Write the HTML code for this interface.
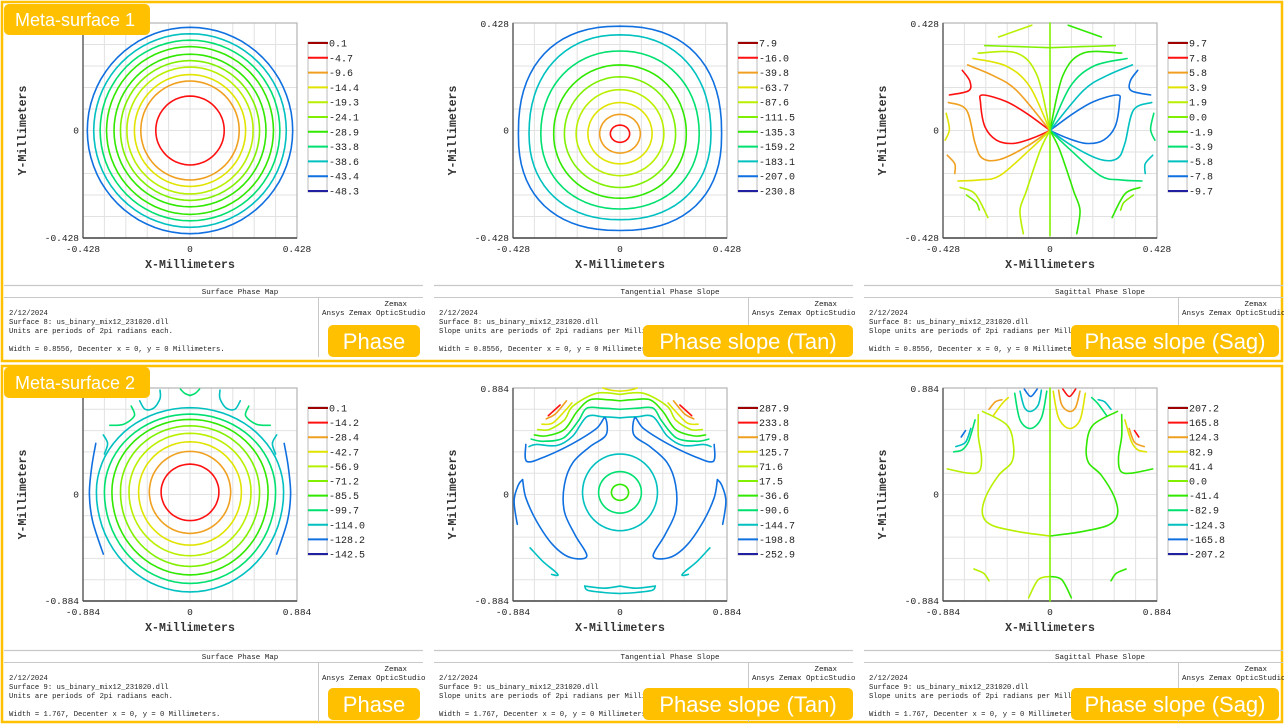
<!DOCTYPE html>
<html><head><meta charset="utf-8">
<style>
html,body{margin:0;padding:0;background:#fff;}
#root{position:relative;width:1284px;height:724px;overflow:hidden;background:#fff;}
svg text{font-family:"Liberation Mono",monospace;}
.badge{font-family:"Liberation Sans",sans-serif;fill:#fff;}
</style></head>
<body>
<div id="root">
<svg id="svg" width="1284" height="724" viewBox="0 0 1284 724" xmlns="http://www.w3.org/2000/svg"></svg>
</div>
<script>
// ---------- DATA ----------
const pal = {dr:'#a00000', r:'#ff1010', o:'#f0a020', y:'#e0e400', yg:'#b8f000', g1:'#80f000', g2:'#30e800', g3:'#00e070', t:'#00c0c0', b:'#1070e0', n:'#2020a0'};
const legendColorKeys = ['dr','r','o','y','yg','g1','g2','g3','t','b','n'];
const antiMirror = {r:'b', o:'t', y:'g3', yg:'g2', g1:'g1', b:'r', t:'o', g3:'y', g2:'yg', dr:'n', n:'dr'};

const titles = ['Surface Phase Map','Tangential Phase Slope','Sagittal Phase Slope'];
const badgeTexts = ['Phase','Phase slope (Tan)','Phase slope (Sag)'];
const rowLabels = ['Meta-surface 1','Meta-surface 2'];
const extents = [0.428, 0.884];
const xTicks1 = ['-0.428','0','0.428'];
const xTicks2 = ['-0.884','0','0.884'];

const legendP1 = ['0.1','-4.7','-9.6','-14.4','-19.3','-24.1','-28.9','-33.8','-38.6','-43.4','-48.3'];
const legendP2 = ['7.9','-16.0','-39.8','-63.7','-87.6','-111.5','-135.3','-159.2','-183.1','-207.0','-230.8'];
const legendP3 = ['9.7','7.8','5.8','3.9','1.9','0.0','-1.9','-3.9','-5.8','-7.8','-9.7'];
const legendP4 = ['0.1','-14.2','-28.4','-42.7','-56.9','-71.2','-85.5','-99.7','-114.0','-128.2','-142.5'];
const legendP5 = ['287.9','233.8','179.8','125.7','71.6','17.5','-36.6','-90.6','-144.7','-198.8','-252.9'];
const legendP6 = ['207.2','165.8','124.3','82.9','41.4','0.0','-41.4','-82.9','-124.3','-165.8','-207.2'];

// Panel 1: concentric phase rings (normalized radius of half-width)
const p1Radii = [0.32,0.46,0.52,0.59,0.65,0.71,0.78,0.84,0.90,0.96];
const p1Colors = ['r','o','y','yg','g1','g2','g2','g3','t','b'];

// Panel 2: tangential slope rings
const p2Rx  = [0.09,0.19,0.30,0.41,0.52,0.62,0.74,0.85,0.95];
const p2Top = [0.08,0.18,0.29,0.41,0.53,0.64,0.77,0.92,1.0];
const p2Bot = [0.08,0.18,0.28,0.39,0.5,0.6,0.7,0.8,0.9];
const p2Sq  = [2,2,2,2,2,2.05,2.1,2.2,2.35];
const p2Colors = ['r','o','y','yg','g1','g2','g3','t','b'];
const p2Cy = -0.03;

// Panel 4: egg shaped phase rings
const p4Rx  = [0.27,0.38,0.48,0.57,0.65,0.73,0.80,0.875];
const p4Top = [0.26,0.38,0.47,0.55,0.62,0.68,0.73,0.79];
const p4Bot = [0.27,0.39,0.5,0.6,0.7,0.78,0.86,0.94];
const p4Colors = ['r','o','y','yg','g1','g2','g3','t'];
const p4Cy = 0.025;
const p4Lines = [
 {c:'g3', sym:true, pts:[[-0.09,0.99],[-0.05,0.95],[0,0.93]]},
 {c:'t', sym:true, pts:[[-0.47,0.88],[-0.42,0.8],[-0.34,0.81],[-0.28,0.9],[-0.28,0.98]]},
 {c:'g3', sym:true, pts:[[-0.75,0.65],[-0.62,0.66],[-0.52,0.74],[-0.55,0.83]]},
 {c:'t', sym:true, pts:[[-0.81,0.56],[-0.77,0.48],[-0.8,0.38]]},
 {c:'b', sym:true, pts:[[-0.88,0.48],[-0.92,0.25],[-0.94,0],[-0.91,-0.25],[-0.81,-0.56]]}
];

// Panel 3: sagittal slope (left half, mirrored antisymmetric)
const p3Lines = [
 {c:'r', pts:[[0,0],[-0.22,0.16],[-0.41,0.27],[-0.63,0.33],[-0.65,0.26],[-0.61,0.04],[-0.5,-0.09],[-0.34,-0.12],[-0.16,-0.07],[0,0]]},
 {c:'r', pts:[[-0.82,0.56],[-0.75,0.46],[-0.76,0.37],[-0.94,0.33]]},
 {c:'o', pts:[[-0.77,0.61],[-0.53,0.51],[-0.31,0.37],[0,0]]},
 {c:'o', pts:[[0,0],[-0.22,-0.15],[-0.47,-0.27],[-0.63,-0.26],[-0.7,-0.12],[-0.78,0.19],[-0.95,0.26]]},
 {c:'y', pts:[[-0.72,0.67],[-0.41,0.6],[-0.19,0.41],[0,0]]},
 {c:'y', pts:[[0,0],[-0.19,-0.18],[-0.47,-0.42],[-0.66,-0.46],[-0.86,-0.47]]},
 {c:'yg', pts:[[-0.67,0.72],[-0.31,0.72],[-0.12,0.51],[0,0]]},
 {c:'yg', pts:[[0,0],[-0.09,-0.18],[-0.22,-0.56],[-0.28,-0.74],[-0.25,-0.96]]},
 {c:'g1', pts:[[-0.61,0.79],[-0.3,0.78],[0,0.77]]},
 {c:'yg', pts:[[-0.48,0.87],[-0.17,0.98]]},
 {c:'y', pts:[[-0.97,0.16],[-0.94,0.01],[-0.98,-0.09]]},
 {c:'o', pts:[[-0.96,-0.23],[-0.89,-0.31],[-0.89,-0.4]]},
 {c:'yg', pts:[[-0.84,-0.53],[-0.7,-0.59],[-0.58,-0.81]]},
 {c:'g1', pts:[[-0.78,-0.6],[-0.69,-0.67],[-0.66,-0.74]]}
];
const p3Center = [[0,1],[0,-0.98]];

// Panel 5: tangential slope row 2 (symmetric mirror)
const p5Lines = [
 {c:'t', pts:[[-0.85,0.45],[-0.78,0.47],[-0.59,0.46],[-0.44,0.55],[-0.31,0.73],[-0.16,0.73],[0,0.72]]},
 {c:'g3', pts:[[-0.83,0.52],[-0.72,0.5],[-0.53,0.53],[-0.39,0.69],[-0.31,0.81],[-0.16,0.81],[0,0.8]]},
 {c:'g2', pts:[[-0.8,0.56],[-0.69,0.55],[-0.52,0.61],[-0.4,0.78],[-0.28,0.89],[-0.12,0.89],[0,0.88]]},
 {c:'yg', pts:[[-0.77,0.61],[-0.66,0.61],[-0.52,0.7],[-0.44,0.83],[-0.22,0.95],[0,0.94]]},
 {c:'y', pts:[[-0.73,0.66],[-0.63,0.67],[-0.52,0.78],[-0.45,0.86]]},
 {c:'y', pts:[[-0.16,1.0],[-0.09,0.98],[0,0.97]]},
 {c:'o', pts:[[-0.69,0.71],[-0.6,0.76],[-0.5,0.88]]},
 {c:'r', pts:[[-0.67,0.74],[-0.56,0.84]]},
 {c:'b', pts:[[-0.88,0.47],[-0.87,0.31],[-0.69,0.36],[-0.44,0.48],[-0.22,0.62],[-0.14,0.72],[-0.13,0.56],[-0.28,0.45],[-0.44,0.3],[-0.52,0.09],[-0.52,-0.16],[-0.42,-0.38],[-0.31,-0.58],[-0.47,-0.59],[-0.63,-0.47],[-0.78,-0.25],[-0.88,-0.03],[-0.91,0.14]]},
 {c:'b', pts:[[-0.91,0.14],[-0.95,0.09],[-0.99,-0.06],[-0.96,-0.28]]},
 {c:'t', pts:[[-0.84,-0.5],[-0.72,-0.63],[-0.61,-0.72],[-0.58,-0.76],[-0.64,-0.75]]},
 {c:'t', pts:[[-0.33,-0.86],[-0.15,-0.88],[0,-0.86]]},
 {c:'t', pts:[[-0.33,-0.86],[-0.3,-0.9],[-0.15,-0.92],[0,-0.93]]}
];
const p5RingR = [0.08,0.2,0.35];
const p5RingRy = [0.075,0.195,0.36];
const p5RingC = ['g2','g3','t'];
const p5Cy = 0.02;

// Panel 6: sagittal slope row 2 (left half, antisymmetric mirror)
const p6Lines = [
 {c:'yg', pts:[[-0.96,0.24],[-0.76,0.2],[-0.66,0.22],[-0.64,0.35],[-0.67,0.55],[-0.67,0.75]]},
 {c:'yg', pts:[[-0.63,0.78],[-0.4,0.65],[-0.34,0.45],[-0.36,0.3],[-0.48,0.18],[-0.6,-0.02],[-0.63,-0.19],[-0.54,-0.29],[-0.29,-0.35],[0,-0.39]]},
 {c:'g3', pts:[[-0.33,0.95],[-0.28,0.7],[-0.18,0.62],[-0.08,0.72],[-0.03,0.97]]},
 {c:'t', pts:[[-0.28,0.97],[-0.24,0.82],[-0.18,0.78],[-0.11,0.84],[-0.08,0.98]]},
 {c:'b', pts:[[-0.24,0.99],[-0.18,0.92],[-0.12,0.99]]},
 {c:'g3', pts:[[-0.7,0.7],[-0.76,0.5],[-0.82,0.42],[-0.9,0.4]]},
 {c:'t', pts:[[-0.74,0.62],[-0.79,0.49],[-0.88,0.45]]},
 {c:'b', pts:[[-0.79,0.6],[-0.83,0.54]]},
 {c:'o', pts:[[-0.57,0.8],[-0.51,0.87],[-0.45,0.89]]},
 {c:'y', pts:[[-0.53,0.74],[-0.45,0.85],[-0.39,0.91]]},
 {c:'yg', pts:[[-0.2,-0.97],[-0.11,-0.8],[0,-0.77]]},
 {c:'yg', pts:[[-0.71,-0.7],[-0.62,-0.74],[-0.57,-0.81]]}
];
const p6Center = [[0,1],[0,-1]];

// ---------- DRAWING ----------
const NS='http://www.w3.org/2000/svg';
const svg=document.getElementById('svg');
function el(tag,attrs,parent){const e=document.createElementNS(NS,tag);for(const k in attrs)e.setAttribute(k,attrs[k]);(parent||svg).appendChild(e);return e;}
function txt(s,attrs,parent){const e=el('text',attrs,parent);e.textContent=s;return e;}

function smoothPath(p){
  if(p.length<3){return 'M'+p.map(q=>q[0].toFixed(1)+','+q[1].toFixed(1)).join(' L');}
  let d='M'+p[0][0].toFixed(1)+','+p[0][1].toFixed(1);
  for(let i=0;i<p.length-1;i++){
    const p0=p[Math.max(0,i-1)],p1=p[i],p2=p[i+1],p3=p[Math.min(p.length-1,i+2)];
    const c1=[p1[0]+(p2[0]-p0[0])/6,p1[1]+(p2[1]-p0[1])/6];
    const c2=[p2[0]-(p3[0]-p1[0])/6,p2[1]-(p3[1]-p1[1])/6];
    d+=' C'+c1[0].toFixed(1)+','+c1[1].toFixed(1)+' '+c2[0].toFixed(1)+','+c2[1].toFixed(1)+' '+p2[0].toFixed(1)+','+p2[1].toFixed(1);
  }
  return d;
}

// frames
el('rect',{x:2,y:2,width:1280,height:359,fill:'none',stroke:'#FFC000','stroke-width':2.5,});
el('rect',{x:2,y:366,width:1280,height:356,fill:'none',stroke:'#FFC000','stroke-width':2.5,});

const legends=[legendP1,legendP2,legendP3,legendP4,legendP5,legendP6];

function makePanel(row,col){
  const dx=col*430, dy=row*365;
  const idx=row*3+col;
  const g=el('g',{});
  
  
  const x0=dx+83,x1=dx+297,y0=dy+23,y1=dy+(row?236:238);
  const cx=(x0+x1)/2, cy=(y0+y1)/2, hw=(x1-x0)/2, hh=(y1-y0)/2;
  const sx=v=>cx+v*hw, sy=v=>cy-v*hh;
  const grid=el('g',{stroke:'#e2e2e2','stroke-width':1},g);
  
  
  for(let i=1;i<10;i++){
    el('line',{x1:x0+i*(x1-x0)/10,y1:y0,x2:x0+i*(x1-x0)/10,y2:y1},grid);
    el('line',{x1:x0,y1:y0+i*(y1-y0)/10,x2:x1,y2:y0+i*(y1-y0)/10},grid);
  }
  el('rect',{x:x0,y:y0,width:x1-x0,height:y1-y0,fill:'none',stroke:'#b4b4b4','stroke-width':1.2},g);
  el('line',{x1:x0,y1:y0,x2:x0,y2:y1,stroke:'#666','stroke-width':1.5},g);
  el('line',{x1:x0,y1:y1,x2:x1,y2:y1,stroke:'#444','stroke-width':1.5},g);
  const cg=el('g',{fill:'none','stroke-width':1.6,'stroke-linecap':'round','stroke-linejoin':'round'},g);
  
  
  const line=(pts,c)=>{const p=el('path',{d:smoothPath(pts.map(q=>[sx(q[0]),sy(q[1])])),stroke:pal[c]},cg);
    
    };
  const ring=(rx,top,bot,ccy,sq,c)=>{const pts=[];for(let a=0;a<=360;a+=5){const t=a*Math.PI/180,co=Math.cos(t),si=Math.sin(t);
      const e=2/sq;const x=rx*Math.sign(co)*Math.pow(Math.abs(co),e);const y=(si>0?top:bot)*Math.sign(si)*Math.pow(Math.abs(si),e);
      pts.push([sx(x),sy(ccy+y)]);}
    const p=el('path',{d:'M'+pts.map(q=>q[0].toFixed(1)+','+q[1].toFixed(1)).join(' L')+'Z',stroke:pal[c]},cg);
    
    };
  const mirrorSet=(list,anti)=>{list.forEach(it=>{line(it.pts,it.c);line(it.pts.map(q=>[-q[0],q[1]]),anti?antiMirror[it.c]:it.c);});};
  if(idx===0){p1Radii.forEach((r,i)=>ring(r,r,r,0,2,p1Colors[i]));}
  if(idx===1){p2Rx.forEach((r,i)=>ring(r,p2Top[i],p2Bot[i],p2Cy,p2Sq[i],p2Colors[i]));}
  if(idx===2){mirrorSet(p3Lines,true);line(p3Center,'g1');}
  if(idx===3){p4Rx.forEach((r,i)=>ring(r,p4Top[i],p4Bot[i],p4Cy,2,p4Colors[i]));mirrorSet(p4Lines,false);}
  if(idx===4){p5RingR.forEach((r,i)=>ring(r,p5RingRy[i],p5RingRy[i],p5Cy,2,p5RingC[i]));mirrorSet(p5Lines,false);}
  if(idx===5){mirrorSet(p6Lines,true);line(p6Center,'g1');}
  const ticks=row?xTicks2:xTicks1;
  const tg=el('g',{'font-size':9.5,fill:'#222'},g);
  
  
  [-1,0,1].forEach((v,i)=>{
    txt(ticks[i],{x:sx(v),y:y1+14,'text-anchor':'middle'},tg);
    txt(ticks[2-i],{x:x0-4,y:sy(-v)+(i===0?4:3),'text-anchor':'end'},tg);
  });
  const xt=txt('X-Millimeters',{x:cx,y:y1+30,'text-anchor':'middle','font-size':11.5,'font-weight':'bold',fill:'#333'},g);
  
  
  const yt=txt('Y-Millimeters',{x:0,y:0,'text-anchor':'middle','font-size':11.5,'font-weight':'bold',fill:'#333',transform:'translate('+(dx+26)+','+cy+') rotate(-90)'},g);
  
  
  const lg=el('g',{},g);
  
  
  const ly0=dy+43, lsp=row?14.6:14.8;
  el('rect',{x:dx+308,y:ly0-1,width:19,height:lsp*10+2,fill:'#fff',stroke:'#bbb','stroke-width':1},lg);
  legends[idx].forEach((s,i)=>{
    const e=el('line',{x1:dx+308,y1:ly0+i*lsp,x2:dx+328,y2:ly0+i*lsp,stroke:pal[legendColorKeys[i]],'stroke-width':2},lg);
    
    
    txt(s,{x:dx+329,y:ly0+i*lsp+3.5,'font-size':10,fill:'#222'},lg);
  });
  const fg=el('g',{},g);
  
  
  el('line',{x1:dx+4,y1:dy+285.5,x2:dx+423,y2:dy+285.5,stroke:'#c8c8c8','stroke-width':1.2},fg);
  el('line',{x1:dx+4,y1:dy+297.5,x2:dx+423,y2:dy+297.5,stroke:'#c8c8c8','stroke-width':1},fg);
  el('line',{x1:dx+318.5,y1:dy+297,x2:dx+318.5,y2:dy+357,stroke:'#c8c8c8','stroke-width':1},fg);
  txt(titles[col],{x:dx+240,y:dy+294,'text-anchor':'middle','font-size':7.5,fill:'#222'},fg);
  const surf=row?'Surface 9: us_binary_mix12_231020.dll':'Surface 8: us_binary_mix12_231020.dll';
  const l3=col===0?'Units are periods of 2pi radians each.':'Slope units are periods of 2pi radians per Millimeter.';
  const l4=row?'Width = 1.767, Decenter x = 0, y = 0 Millimeters.':'Width = 0.8556, Decenter x = 0, y = 0 Millimeters.';
  [['2/12/2024',315],[surf,324],[l3,333],[l4,351]].forEach(a=>txt(a[0],{x:dx+9,y:dy+a[1],'font-size':7.2,fill:'#222'},fg));
  txt('Zemax',{x:dx+407,y:dy+306,'text-anchor':'end','font-size':7.5,fill:'#222'},fg);
  txt('Ansys Zemax OpticStudio',{x:dx+322,y:dy+315,'font-size':7.5,fill:'#222'},fg);
}
for(let r=0;r<2;r++)for(let c=0;c<3;c++)makePanel(r,c);

const badgeX=[[328,420],[643,853],[1071,1279]];
for(let r=0;r<2;r++){
  const dy=r*363;
  const rl=el('g',{});
  
  
  el('rect',{x:4,y:dy+4,width:146,height:31,rx:5,fill:'#FFC000'},rl);
  txt(rowLabels[r],{x:15,y:dy+26,'font-size':18,class:'badge',style:'font-family:"Liberation Sans",sans-serif'},rl);
  for(let c=0;c<3;c++){
    const b=el('g',{});
    
    
    const [a,z]=badgeX[c];
    el('rect',{x:a,y:dy+325,width:z-a,height:32,rx:5,fill:'#FFC000'},b);
    txt(badgeTexts[c],{x:(a+z)/2,y:dy+349,'text-anchor':'middle','font-size':22,class:'badge',style:'font-family:"Liberation Sans",sans-serif'},b);
  }
}
</script>
</body></html>
